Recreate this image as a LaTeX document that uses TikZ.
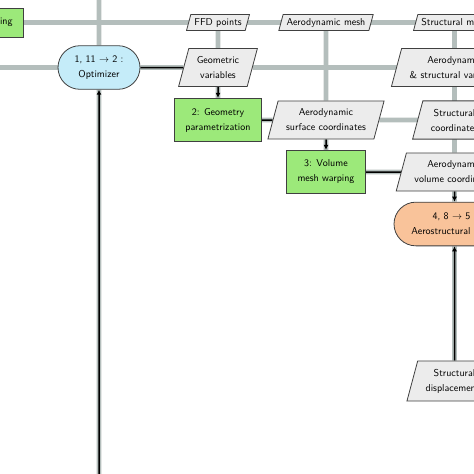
\documentclass[tikz,border=0pt]{standalone}
\usetikzlibrary{shapes.geometric,shapes.misc,arrows.meta,backgrounds,positioning}
\definecolor{funcgreen}{RGB}{156,233,122}
\definecolor{optblue}{RGB}{197,236,249}
\definecolor{mdapeach}{RGB}{249,195,154}
\definecolor{datafill}{RGB}{236,236,236}
\definecolor{datagray}{RGB}{180,190,188}
\tikzset{
  every node/.style={font=\sffamily\fontsize{10}{15}\selectfont, align=center},
  func/.style={rectangle, draw=black!75, line width=0.8pt, fill=funcgreen, inner xsep=11pt, inner ysep=0pt, minimum height=43.5pt},
  optim/.style={rounded rectangle, draw=black!75, line width=0.8pt, fill=optblue, minimum height=43.6pt, minimum width=82pt, inner sep=0pt},
  solver/.style={rounded rectangle, draw=black!75, line width=0.8pt, fill=mdapeach, minimum height=43.7pt, minimum width=121pt, inner sep=0pt},
  datashape/.style={trapezium, trapezium left angle=75, trapezium right angle=105, draw=black!75, line width=0.8pt, fill=datafill},
  datain/.style={datashape, inner sep=3.5pt, text height=7pt, text depth=2pt},
  data/.style={datashape, inner sep=8pt},
  dataline/.style={line width=4.7pt, draw=datagray},
  procline/.style={line width=1.5pt, draw=black},
}
\begin{document}
\begin{tikzpicture}[x=1pt, y=-1pt, >={Latex[length=5pt,width=5pt]}]
  \useasboundingbox (0,0) rectangle (474,474);
  \node (opt) [optim] at (99,67.5) {1, 11 $\rightarrow$ 2 :\\Optimizer};
  \node (prep) [func, minimum height=29pt, anchor=east] at (24,22.5) {Meshing};
  \node (geomvars) [data, right of=opt, node distance=119pt] {Geometric\\variables};
  \node (ffd) [datain, above of=geomvars, node distance=45pt] {FFD points};
  \node (geomparam) [func, below of=geomvars, node distance=52.5pt] {2: Geometry\\parametrization};
  \node (aerosurf) [data, right of=geomparam, node distance=108pt] {Aerodynamic\\surface coordinates};
  \node (aeromesh) [datain, above of=aerosurf, node distance=97.5pt] {Aerodynamic mesh};
  \node (volmesh) [func, below of=aerosurf, node distance=52pt] {3: Volume\\mesh warping};
  \node (aerovol) [data, right of=volmesh, node distance=128.5pt] {Aerodynamic\\volume coordinates};
  \node (structcoord) [data, above of=aerovol, node distance=52pt] {Structural\\coordinates};
  \node (asvars) [data, above of=structcoord, node distance=52.5pt] {Aerodynamic\\\& structural variables};
  \node (structmesh) [datain, above of=asvars, node distance=45pt] {Structural mesh};
  \node (aerostruct) [solver, below of=aerovol, node distance=52pt] {4, 8 $\rightarrow$ 5 :\\Aerostructural solver};
  \node (structdisp) [data, below of=aerostruct, node distance=157pt] {Structural\\displacements};
  \coordinate (optup) at (99,-10);
  \coordinate (optin) at (99,490);
  \coordinate (rowone) at (-10,67.5);
  \coordinate (r0end) at (490,22.5);
  \coordinate (r1end) at (490,67.5);
  \coordinate (r2end) at (490,120);
  \begin{scope}[on background layer]
    \draw[dataline] (prep) -- (r0end);
    \draw[dataline] (optup) -- (opt);
    \draw[dataline] (rowone) -- (opt);
    \draw[dataline] (opt) -- (geomvars);
    \draw[dataline] (geomvars) -- (r1end);
    \draw[dataline] (ffd) -- (geomvars);
    \draw[dataline] (geomvars) -- (geomparam);
    \draw[dataline] (geomparam) -- (aerosurf);
    \draw[dataline] (aerosurf) -- (r2end);
    \draw[dataline] (aeromesh) -- (aerosurf);
    \draw[dataline] (aerosurf) -- (volmesh);
    \draw[dataline] (volmesh) -- (aerovol);
    \draw[dataline] (structmesh) -- (aerovol);
    \draw[dataline] (aerovol) -- (aerostruct);
    \draw[dataline] (structdisp) -- (aerostruct);
    \draw[dataline] (optin) -- (opt);
    \draw[procline] (opt) -- (geomvars);
    \draw[procline,->] (geomvars) -- (geomparam);
    \draw[procline] (geomparam) -- (aerosurf);
    \draw[procline,->] (aerosurf) -- (volmesh);
    \draw[procline] (volmesh) -- (aerovol);
    \draw[procline,->] (aerovol) -- (aerostruct);
    \draw[procline,->] (structdisp) -- (aerostruct);
    \draw[procline,->] (optin) -- (opt);
  \end{scope}
\end{tikzpicture}
\end{document}
